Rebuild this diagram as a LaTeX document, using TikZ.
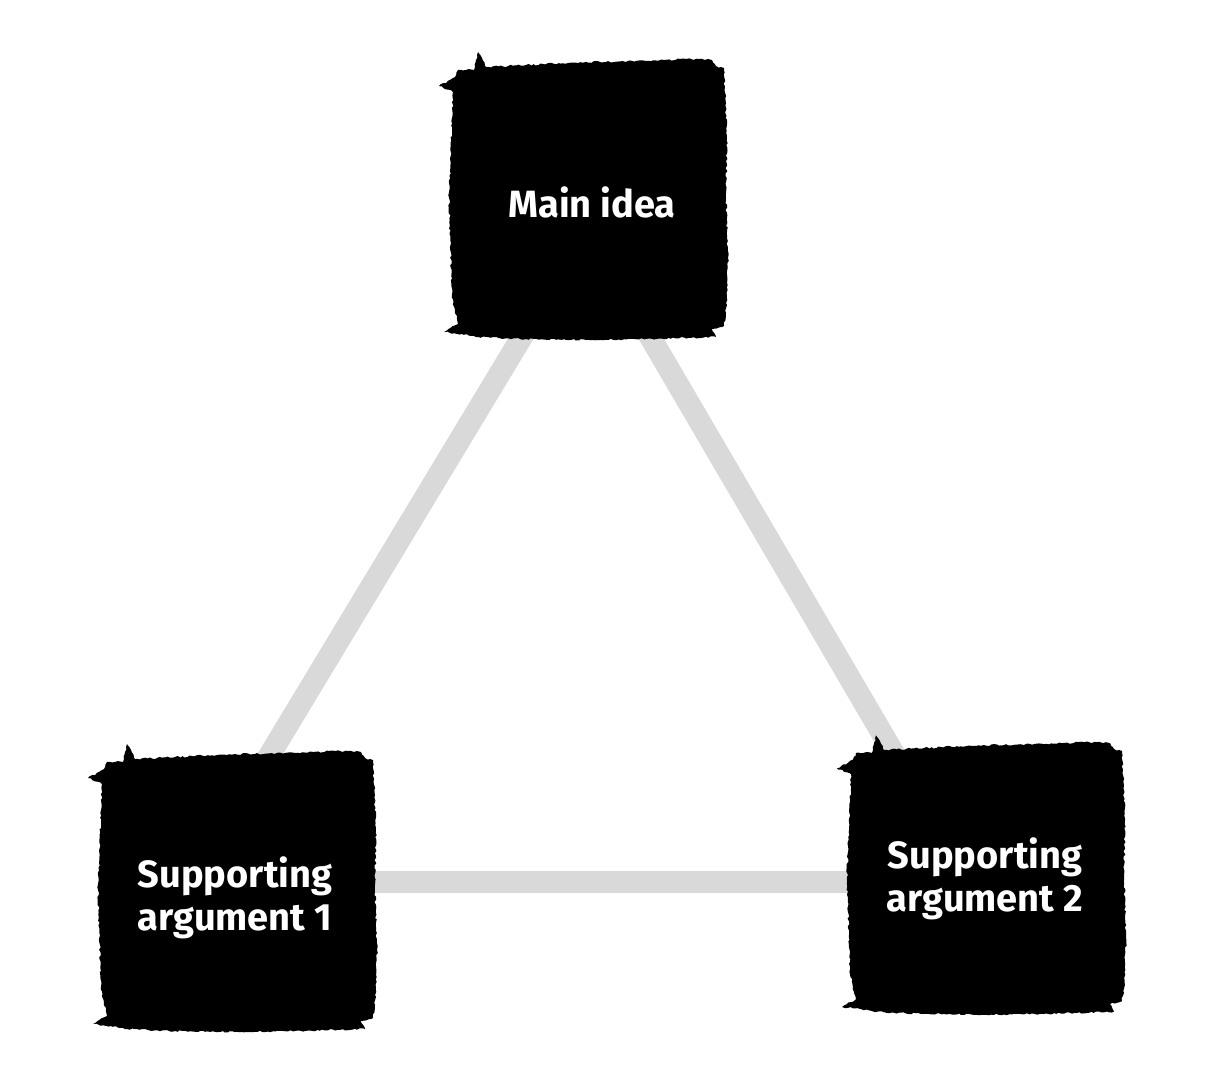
\documentclass[tikz,border=0pt]{standalone}
\usepackage{fontspec}
\setmainfont{Fira Sans}
\usetikzlibrary{decorations.pathmorphing}
\tikzset{
  brush/.pic={
    \pgfmathsetseed{7}
    \fill[black, decorate, decoration={random steps, segment length=2.5pt, amplitude=0.9pt}]
      (-128,-128) -- (-112,-128) -- (-108,-146) -- (-100,-131)
      -- (-60,-133) -- (0,-136) -- (60,-137) -- (100,-139) -- (126,-138)
      -- (130,-132) -- (138,-130)
      -- (141,-60) -- (140,0) -- (142,60) -- (140,115)
      -- (138,128) -- (126,131) -- (130,139)
      -- (60,141) -- (0,142) -- (-60,141) -- (-110,139)
      -- (-124,136) -- (-142,134) -- (-128,126)
      -- (-134,100) -- (-137,0) -- (-134,-80)
      -- (-133,-106) -- (-147,-112) -- (-131,-121) -- cycle;
  },
  link/.style={draw=black!15, line width=22pt},
  lbl/.style={text=white, font=\fontsize{38}{43}\selectfont\bfseries, align=center, inner sep=0pt}
}
\begin{document}
\begin{tikzpicture}[x=1pt,y=-1pt]
\useasboundingbox (0,0) rectangle (1206,1070);
\coordinate (vtop) at (587,229);
\coordinate (vleft) at (193,882);
\coordinate (vright) at (969,882);
\draw[link] (vtop) -- (vleft) -- (vright) -- cycle;
\pic at (586,198) {brush};
\pic at (235,890) {brush};
\pic[yscale=0.97] at (984,877) {brush};
\node[lbl] (main) at (592,202) {Main idea};
\node[lbl] (sa1) at (235,898) {Supporting\\argument 1};
\node[lbl] (sa2) at (985,879) {Supporting\\argument 2};
\end{tikzpicture}
\end{document}
